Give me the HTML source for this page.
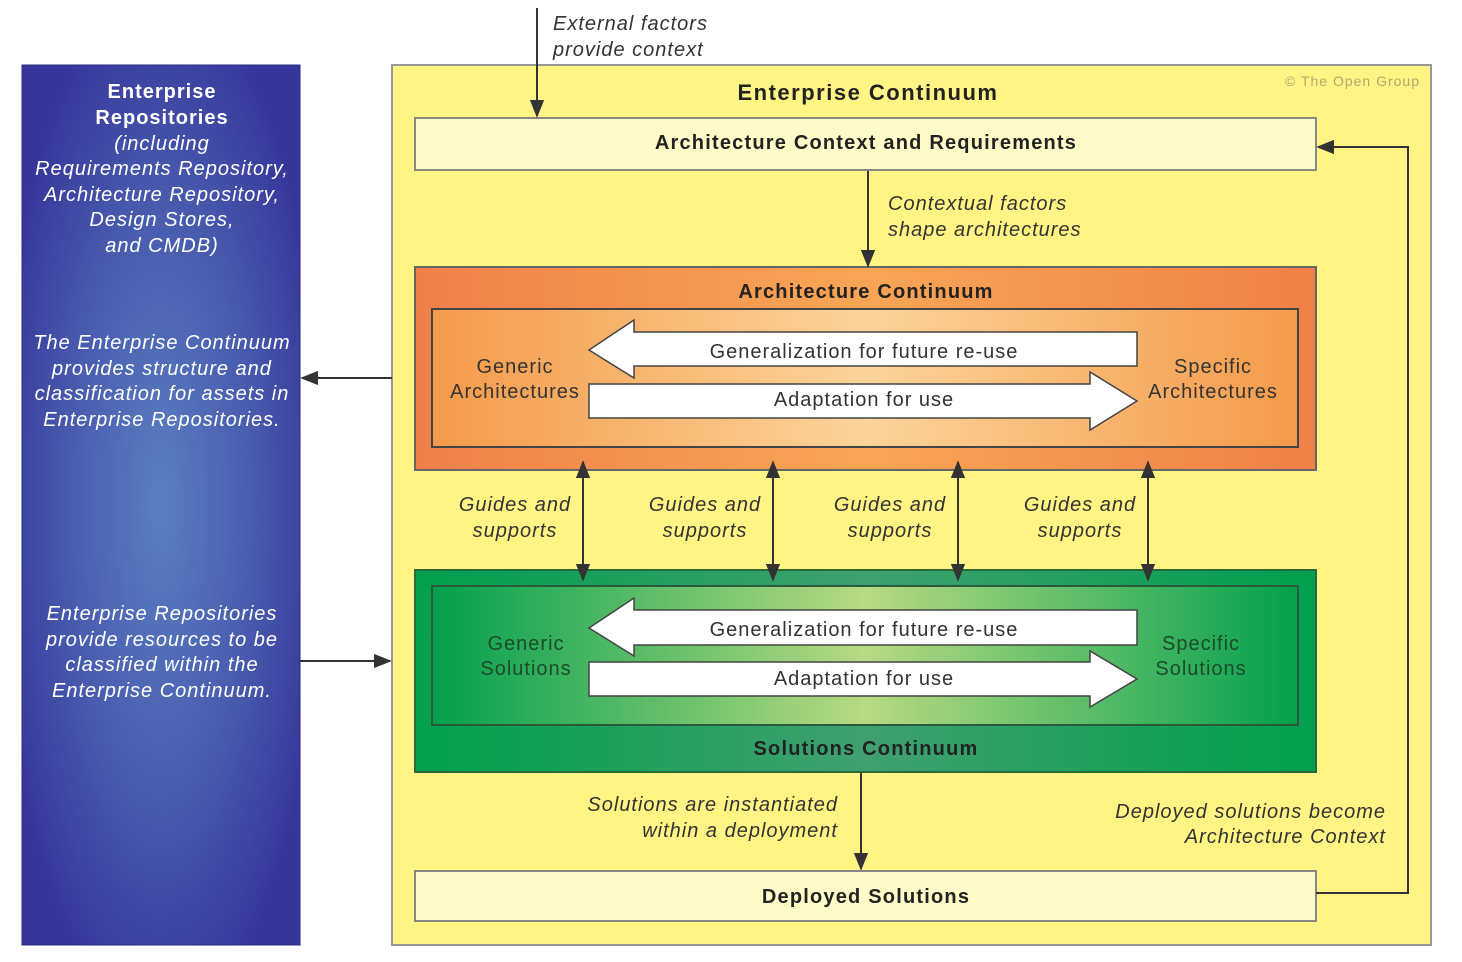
<!DOCTYPE html>
<html><head><meta charset="utf-8"><style>
body{margin:0;background:#fff;}
svg text{font-family:"Liberation Sans",sans-serif;letter-spacing:1px;}
</style></head><body>
<svg width="1462" height="957" viewBox="0 0 1462 957" xmlns="http://www.w3.org/2000/svg">
<defs>
<radialGradient id="blue" cx="0.5" cy="0.5" r="0.6">
<stop offset="0" stop-color="#5a80c2"/><stop offset="0.6" stop-color="#4858ac"/><stop offset="1" stop-color="#36359a"/></radialGradient>
<linearGradient id="or1" x1="0" x2="1"><stop offset="0" stop-color="#f0804a"/><stop offset="0.5" stop-color="#f7a555"/><stop offset="1" stop-color="#f08048"/></linearGradient>
<linearGradient id="or2" x1="0" x2="1"><stop offset="0" stop-color="#f49a4a"/><stop offset="0.5" stop-color="#fbd49a"/><stop offset="1" stop-color="#f49a4a"/></linearGradient>
<linearGradient id="gr1" x1="0" x2="1"><stop offset="0" stop-color="#00a04e"/><stop offset="0.5" stop-color="#40a070"/><stop offset="1" stop-color="#00a04e"/></linearGradient>
<linearGradient id="gr2" x1="0" x2="1"><stop offset="0" stop-color="#03a04e"/><stop offset="0.5" stop-color="#b8da82"/><stop offset="1" stop-color="#03a04e"/></linearGradient>
<marker id="ah" viewBox="0 0 10 10" refX="9" refY="5" markerWidth="9" markerHeight="9" orient="auto-start-reverse"><path d="M0,1 L10,5 L0,9 z" fill="#333"/></marker>
</defs>
<rect x="22" y="65" width="278" height="880" fill="url(#blue)" stroke="#2a2a80"/>
<g fill="#fff" font-size="20" text-anchor="middle" style="letter-spacing:1.3px">
<text x="162" y="98" font-weight="bold">Enterprise</text>
<text x="162" y="124" font-weight="bold">Repositories</text>
<g font-style="italic">
<text x="162" y="150">(including</text>
<text x="162" y="175">Requirements Repository,</text>
<text x="162" y="201">Architecture Repository,</text>
<text x="162" y="226">Design Stores,</text>
<text x="162" y="252">and CMDB)</text>
<text x="162" y="349">The Enterprise Continuum</text>
<text x="162" y="375">provides structure and</text>
<text x="162" y="400">classification for assets in</text>
<text x="162" y="426">Enterprise Repositories.</text>
<text x="162" y="620">Enterprise Repositories</text>
<text x="162" y="646">provide resources to be</text>
<text x="162" y="671">classified within the</text>
<text x="162" y="697">Enterprise Continuum.</text>
</g></g>
<rect x="392" y="65" width="1039" height="880" fill="#fff484" stroke="#999" stroke-width="2"/>
<text x="1420" y="86" font-size="14" fill="#b5a870" text-anchor="end">© The Open Group</text>
<text x="868" y="100" font-size="22" font-weight="bold" fill="#222" text-anchor="middle" style="letter-spacing:1.5px">Enterprise Continuum</text>
<rect x="415" y="118" width="901" height="52" fill="#fffbc8" stroke="#888" stroke-width="2"/>
<text x="866" y="149" font-size="20" font-weight="bold" fill="#222" text-anchor="middle" style="letter-spacing:1.2px">Architecture Context and Requirements</text>
<g font-size="20" font-style="italic" fill="#333">
<text x="553" y="30">External factors</text><text x="553" y="56">provide context</text>
<text x="888" y="210">Contextual factors</text><text x="888" y="236">shape architectures</text>
<text x="838" y="811" text-anchor="end">Solutions are instantiated</text><text x="838" y="837" text-anchor="end">within a deployment</text>
<text x="1386" y="818" text-anchor="end">Deployed solutions become</text><text x="1386" y="843" text-anchor="end">Architecture Context</text>
<g text-anchor="middle">
<text x="515" y="511">Guides and</text><text x="515" y="537">supports</text>
<text x="705" y="511">Guides and</text><text x="705" y="537">supports</text>
<text x="890" y="511">Guides and</text><text x="890" y="537">supports</text>
<text x="1080" y="511">Guides and</text><text x="1080" y="537">supports</text>
</g></g>
<rect x="415" y="267" width="901" height="203" fill="url(#or1)" stroke="#666" stroke-width="2"/>
<rect x="432" y="309" width="866" height="138" fill="url(#or2)" stroke="#444" stroke-width="2"/>
<text x="866" y="298" font-size="20" font-weight="bold" fill="#222" text-anchor="middle" style="letter-spacing:1.2px">Architecture Continuum</text>
<rect x="415" y="570" width="901" height="202" fill="url(#gr1)" stroke="#2a6a3a" stroke-width="2"/>
<rect x="432" y="586" width="866" height="139" fill="url(#gr2)" stroke="#2a5a3a" stroke-width="2"/>
<text x="866" y="755" font-size="20" font-weight="bold" fill="#222" text-anchor="middle" style="letter-spacing:1.2px">Solutions Continuum</text>
<g fill="#fff" stroke="#444" stroke-width="1.5">
<path d="M589,350 L634,320 L634,332 L1137,332 L1137,366 L634,366 L634,378 Z"/>
<path d="M589,384 L1090,384 L1090,372 L1137,401 L1090,430 L1090,418 L589,418 Z"/>
<path d="M589,628 L634,598 L634,610 L1137,610 L1137,645 L634,645 L634,656 Z"/>
<path d="M589,662 L1090,662 L1090,651 L1137,679 L1090,707 L1090,696 L589,696 Z"/>
</g>
<g font-size="20" fill="#333" text-anchor="middle">
<text x="864" y="358">Generalization for future re-use</text>
<text x="864" y="406">Adaptation for use</text>
<text x="864" y="636">Generalization for future re-use</text>
<text x="864" y="685">Adaptation for use</text>
<text x="515" y="373">Generic</text><text x="515" y="398">Architectures</text>
<text x="1213" y="373">Specific</text><text x="1213" y="398">Architectures</text>
</g>
<g font-size="20" fill="#1d4a2a" text-anchor="middle">
<text x="526" y="650">Generic</text><text x="526" y="675">Solutions</text>
<text x="1201" y="650">Specific</text><text x="1201" y="675">Solutions</text>
</g>
<rect x="415" y="871" width="901" height="50" fill="#fffbc8" stroke="#888" stroke-width="2"/>
<text x="866" y="903" font-size="20" font-weight="bold" fill="#222" text-anchor="middle" style="letter-spacing:1.2px">Deployed Solutions</text>
<g stroke="#333" stroke-width="2" fill="none">
<line x1="537" y1="8" x2="537" y2="116" marker-end="url(#ah)"/>
<line x1="868" y1="171" x2="868" y2="266" marker-end="url(#ah)"/>
<line x1="861" y1="773" x2="861" y2="869" marker-end="url(#ah)"/>
<line x1="583" y1="462" x2="583" y2="580" marker-start="url(#ah)" marker-end="url(#ah)"/>
<line x1="773" y1="462" x2="773" y2="580" marker-start="url(#ah)" marker-end="url(#ah)"/>
<line x1="958" y1="462" x2="958" y2="580" marker-start="url(#ah)" marker-end="url(#ah)"/>
<line x1="1148" y1="462" x2="1148" y2="580" marker-start="url(#ah)" marker-end="url(#ah)"/>
<polyline points="1316,893 1408,893 1408,147 1318,147" marker-end="url(#ah)"/>
<line x1="392" y1="378" x2="302" y2="378" marker-end="url(#ah)"/>
<line x1="300" y1="661" x2="390" y2="661" marker-end="url(#ah)"/>
</g>
</svg>
</body></html>
